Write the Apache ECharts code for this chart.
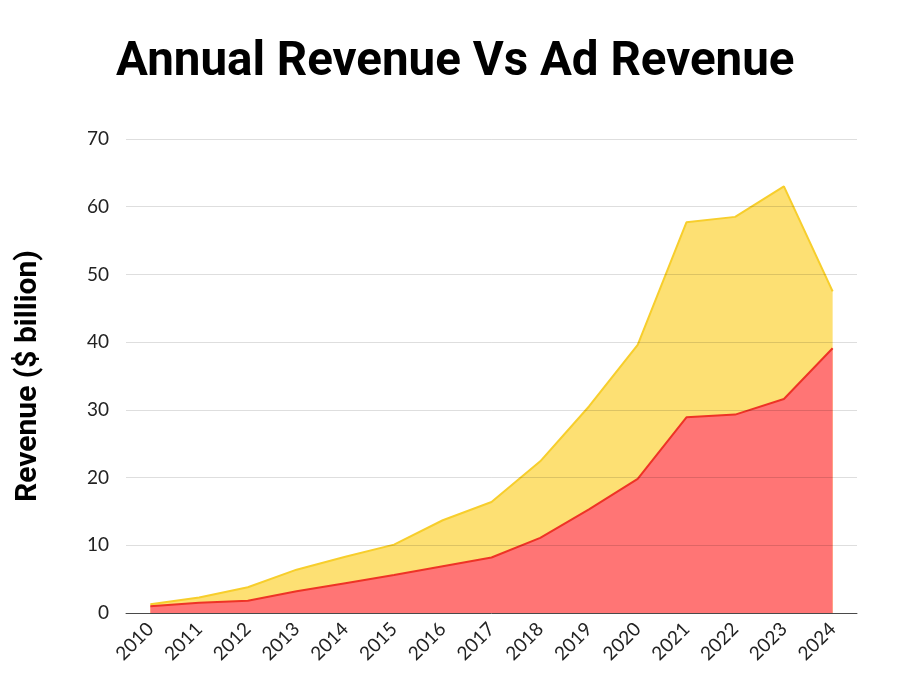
<!DOCTYPE html>
<html>
<head>
<meta charset="utf-8">
<script src="https://cdn.jsdelivr.net/npm/echarts@6/dist/echarts.min.js"></script>
<style>
html,body{margin:0;padding:0;background:#fff;}
#chart{width:900px;height:700px;}
</style>
</head>
<body>
<div id="chart"></div>
<script>
const years = ['2010','2011','2012','2013','2014','2015','2016','2017','2018','2019','2020','2021','2022','2023','2024'];
const annualRevenue = [1.3, 2.3, 3.8, 6.4, 8.3, 10.1, 13.7, 16.4, 22.4, 30.5, 39.6, 57.7, 58.5, 63.0, 47.5];
const adRevenue = [1.0, 1.5, 1.8, 3.2, 4.4, 5.6, 6.9, 8.2, 11.1, 15.3, 19.8, 28.9, 29.3, 31.6, 39.1];
const yTicks = {min: 0, max: 70, interval: 10};

const chart = echarts.init(document.getElementById('chart'));
chart.setOption({
  backgroundColor: '#ffffff',
  animation: false,
  title: {
    text: 'Annual Revenue Vs Ad Revenue',
    left: 111,
    top: 34,
    textStyle: {fontFamily: 'Roboto', fontWeight: 'bold', fontSize: 47.5, color: '#000'}
  },
  grid: {left: 126, right: 43, top: 139, bottom: 87, containLabel: false},
  xAxis: {
    type: 'category',
    data: years,
    boundaryGap: true,
    axisLine: {show: true, lineStyle: {color: '#555', width: 1}},
    axisTick: {show: false},
    axisLabel: {rotate: 45, fontFamily: 'Lato', fontSize: 19, color: '#222', margin: 13, interval: 0}
  },
  yAxis: {
    type: 'value',
    min: yTicks.min, max: yTicks.max, interval: yTicks.interval,
    z: 5,
    name: 'Revenue ($ billion)',
    nameLocation: 'middle',
    nameGap: 83,
    nameTextStyle: {fontFamily: 'Roboto', fontWeight: 'bold', fontSize: 30, color: '#000'},
    axisLine: {show: false},
    axisTick: {show: false},
    axisLabel: {fontFamily: 'Lato', fontSize: 19, color: '#222', margin: 17},
    splitLine: {show: true, lineStyle: {color: 'rgba(0,0,0,0.13)', width: 1}}
  },
  series: [
    {
      name: 'Annual Revenue',
      type: 'line',
      data: annualRevenue,
      symbol: 'none',
      lineStyle: {color: '#F7CE2C', width: 2},
      areaStyle: {color: '#FDE073', opacity: 1},
      z: 2
    },
    {
      name: 'Ad Revenue',
      type: 'line',
      data: adRevenue,
      symbol: 'none',
      lineStyle: {color: '#EE3326', width: 2},
      areaStyle: {color: '#FF7575', opacity: 1},
      z: 3
    }
  ]
});
</script>
</body>
</html>
